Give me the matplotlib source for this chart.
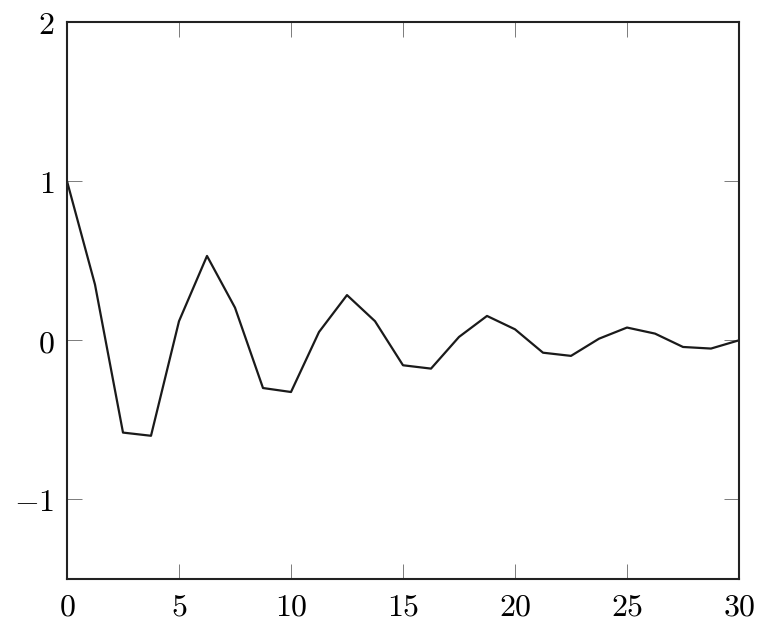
import matplotlib
matplotlib.use("Agg")
import matplotlib.pyplot as plt
from matplotlib.ticker import FuncFormatter

# valores (amostras a cada 1.25)
tempo = [0.0, 1.25, 2.5, 3.75, 5.0, 6.25, 7.5, 8.75, 10.0, 11.25, 12.5, 13.75,
         15.0, 16.25, 17.5, 18.75, 20.0, 21.25, 22.5, 23.75, 25.0, 26.25,
         27.5, 28.75, 30.0]
resposta = [1.0, 0.35, -0.58, -0.60, 0.12, 0.53, 0.205, -0.30, -0.325, 0.052,
            0.284, 0.12, -0.157, -0.178, 0.021, 0.153, 0.069, -0.078, -0.098,
            0.01, 0.08, 0.042, -0.042, -0.052, 0.0]

xticks = [0, 5, 10, 15, 20, 25, 30]
yticks = [-1, 0, 1, 2]

plt.rcParams["mathtext.fontset"] = "cm"

fig = plt.figure(figsize=(7.68, 6.26), dpi=100)
ax = fig.add_axes([67 / 768, 1 - 579 / 626, 672 / 768, 557 / 626])

ax.plot(tempo, resposta, color="#1a1a1a", linewidth=1.6)

ax.set_xlim(0, 30)
ax.set_ylim(-1.5, 2)
ax.set_xticks(xticks)
ax.set_yticks(yticks)

rotulo = FuncFormatter(lambda v, pos: r"$%d$" % v if v >= 0 else r"$-%d$" % abs(v))
ax.xaxis.set_major_formatter(rotulo)
ax.yaxis.set_major_formatter(rotulo)

ax.tick_params(direction="in", length=11, width=0.6, color="#666666",
               labelsize=23, top=True, right=True)
ax.tick_params(axis="x", pad=9)
ax.tick_params(axis="y", pad=9)
for lado in ax.spines.values():
    lado.set_linewidth(1.5)
    lado.set_color("#222222")

fig.savefig("out.png", dpi=100)
